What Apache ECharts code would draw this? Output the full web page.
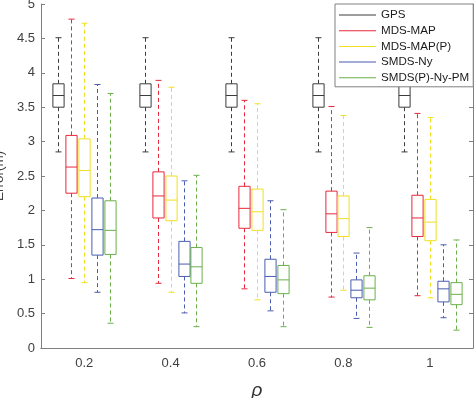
<!DOCTYPE html>
<html>
<head>
<meta charset="utf-8">
<script src="https://cdn.jsdelivr.net/npm/echarts@6/dist/echarts.min.js"></script>
<style>
  html, body { margin: 0; padding: 0; background: #fff; }
  #chart { width: 474px; height: 398px; }
</style>
</head>
<body>
<div id="chart"></div>
<script>
  // x categories (rho)
  const categories = ['0.2', '0.4', '0.6', '0.8', '1'];
  const seriesNames = ['GPS', 'MDS-MAP', 'MDS-MAP(P)', 'SMDS-Ny', 'SMDS(P)-Ny-PM'];
  const seriesColors = ['#3c3c3c', '#e8283c', '#f0e020', '#4a5cb0', '#6ab04a'];

  // each row: [lower whisker, q1, median, q3, upper whisker]
  const gpsBoxes = [
    [2.85, 3.50, 3.67, 3.84, 4.51],
    [2.85, 3.50, 3.67, 3.84, 4.51],
    [2.85, 3.50, 3.67, 3.84, 4.51],
    [2.85, 3.50, 3.67, 3.84, 4.51],
    [2.85, 3.50, 3.67, 3.84, 4.51]
  ];
  const mdsMapBoxes = [
    [1.01, 2.25, 2.63, 3.09, 4.78],
    [0.94, 1.89, 2.21, 2.56, 3.89],
    [0.86, 1.74, 2.03, 2.35, 3.60],
    [0.74, 1.68, 1.95, 2.28, 3.51],
    [0.76, 1.62, 1.89, 2.22, 3.41]
  ];
  const mdsMapPBoxes = [
    [0.95, 2.20, 2.58, 3.04, 4.72],
    [0.81, 1.85, 2.15, 2.50, 3.79],
    [0.70, 1.71, 1.98, 2.31, 3.55],
    [0.84, 1.62, 1.88, 2.21, 3.38],
    [0.73, 1.56, 1.83, 2.16, 3.35]
  ];
  const smdsNyBoxes = [
    [0.81, 1.35, 1.72, 2.18, 3.83],
    [0.51, 1.04, 1.22, 1.55, 2.43],
    [0.54, 0.81, 1.04, 1.29, 2.14],
    [0.43, 0.73, 0.84, 0.99, 1.38],
    [0.44, 0.67, 0.86, 0.97, 1.50]
  ];
  const smdsPNyPmBoxes = [
    [0.36, 1.36, 1.71, 2.14, 3.70],
    [0.31, 0.94, 1.18, 1.46, 2.51],
    [0.31, 0.79, 0.99, 1.20, 2.01],
    [0.30, 0.70, 0.87, 1.05, 1.75],
    [0.26, 0.63, 0.78, 0.95, 1.57]
  ];
  const allBoxes = [gpsBoxes, mdsMapBoxes, mdsMapPBoxes, smdsNyBoxes, smdsPNyPmBoxes];

  const yTicks = { min: 0, max: 5, interval: 0.5 };

  const chart = echarts.init(document.getElementById('chart'));

  const boxStep = 12.9;   // px between boxes in one group
  const boxHalf = 5.6;    // half box width
  const capHalf = 3;      // half whisker cap width

  const makeRenderItem = (seriesIdx, color) => (params, api) => {
    const cat = api.value(0);
    const off = (seriesIdx - 2) * boxStep;
    const pLow = api.coord([cat, api.value(1)]);
    const pQ1 = api.coord([cat, api.value(2)]);
    const pMed = api.coord([cat, api.value(3)]);
    const pQ3 = api.coord([cat, api.value(4)]);
    const pHigh = api.coord([cat, api.value(5)]);
    const x = Math.round(pLow[0] + off) + 0.5;
    const solid = { stroke: color, lineWidth: 1, fill: null };
    const dashed = { stroke: color, lineWidth: 1, lineDash: [4, 3], fill: null };
    return {
      type: 'group',
      children: [
        { type: 'line', shape: { x1: x, y1: pQ3[1], x2: x, y2: pHigh[1] }, style: dashed },
        { type: 'line', shape: { x1: x, y1: pQ1[1], x2: x, y2: pLow[1] }, style: dashed },
        { type: 'line', shape: { x1: x - capHalf, y1: pHigh[1], x2: x + capHalf, y2: pHigh[1] }, style: solid },
        { type: 'line', shape: { x1: x - capHalf, y1: pLow[1], x2: x + capHalf, y2: pLow[1] }, style: solid },
        { type: 'rect', shape: { x: x - boxHalf, y: pQ3[1], width: boxHalf * 2, height: pQ1[1] - pQ3[1] }, style: { stroke: color, lineWidth: 1, fill: '#fff' } },
        { type: 'line', shape: { x1: x - boxHalf, y1: pMed[1], x2: x + boxHalf, y2: pMed[1] }, style: solid }
      ]
    };
  };

  const series = seriesNames.map((name, i) => ({
    name,
    type: 'custom',
    xAxisIndex: 0,
    yAxisIndex: 0,
    itemStyle: { color: seriesColors[i] },
    renderItem: makeRenderItem(i, seriesColors[i]),
    encode: { x: 0, y: [1, 2, 3, 4, 5] },
    data: allBoxes[i].map((b, k) => [k, ...b])
  }));

  const axisColor = '#808080';
  const labelStyle = { color: '#404040', fontSize: 13, fontFamily: 'Liberation Sans, Arial, sans-serif' };

  chart.setOption({
    animation: false,
    grid: { left: 41, top: 4, right: 1, bottom: 50, outerBoundsMode: 'none' },
    legend: {
      data: seriesNames,
      orient: 'vertical',
      left: 335,
      top: 4,
      padding: [4, 4, 2, 4],
      itemGap: 1.7,
      itemWidth: 37,
      itemHeight: 1,
      icon: 'rect',
      backgroundColor: '#fff',
      borderColor: axisColor,
      borderWidth: 1,
      textStyle: { color: '#1a1a1a', fontSize: 11.6, lineHeight: 14, fontFamily: 'Liberation Sans, Arial, sans-serif' }
    },
    xAxis: [
      {
        type: 'category',
        data: categories,
        position: 'bottom',
        name: 'ρ',
        nameLocation: 'middle',
        nameGap: 33.5,
        nameTextStyle: { fontSize: 19, fontStyle: 'italic', color: '#333', fontFamily: 'Liberation Sans, Arial, sans-serif' },
        axisLine: { lineStyle: { color: axisColor } },
        axisTick: { alignWithLabel: true, inside: true, length: 4, lineStyle: { color: axisColor } },
        axisLabel: { ...labelStyle, margin: 9 },
        splitLine: { show: false }
      },
      {
        type: 'category',
        data: categories,
        position: 'top',
        axisLine: { lineStyle: { color: axisColor } },
        axisTick: { alignWithLabel: true, inside: true, length: 4, lineStyle: { color: axisColor } },
        axisLabel: { show: false }
      }
    ],
    yAxis: [
      {
        type: 'value',
        ...yTicks,
        name: 'Error(m)',
        nameLocation: 'middle',
        nameGap: 25,
        nameTextStyle: { ...labelStyle, fontSize: 13.5 },
        axisLine: { show: true, lineStyle: { color: axisColor } },
        axisTick: { show: true, inside: true, length: 4, lineStyle: { color: axisColor } },
        axisLabel: { ...labelStyle, margin: 6 },
        splitLine: { show: false }
      },
      {
        type: 'value',
        ...yTicks,
        position: 'right',
        axisLine: { show: true, lineStyle: { color: axisColor } },
        axisTick: { show: true, inside: true, length: 4, lineStyle: { color: axisColor } },
        axisLabel: { show: false },
        splitLine: { show: false }
      }
    ],
    series
  });
</script>
</body>
</html>
